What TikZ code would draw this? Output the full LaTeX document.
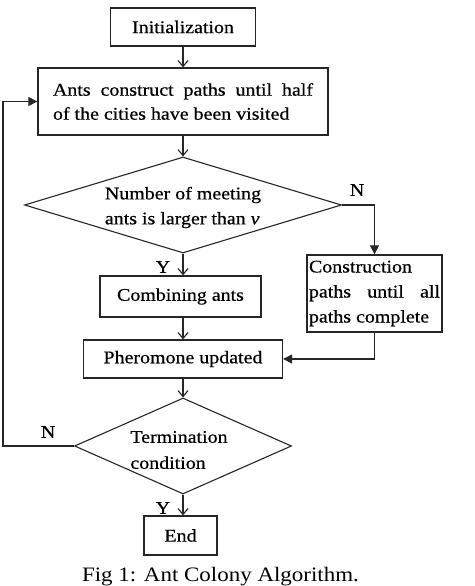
\documentclass[tikz,border=0pt]{standalone}
\usepackage{fontspec}
\setmainfont{Liberation Serif}[FakeStretch=1.12]
\newfontfamily\diagfont{Liberation Serif}[FakeStretch=1.12,FakeBold=0.6]
\usetikzlibrary{arrows.meta,shapes.geometric}
\begin{document}
\begin{tikzpicture}[x=1pt,y=-1pt,
  box/.style={draw=black!85, line width=1.3pt, inner sep=0pt, align=center, font=\diagfont\fontsize{17.8}{24}\selectfont},
  dec/.style={draw=black!85, line width=1.1pt, diamond, inner sep=0pt},
  lbl/.style={font=\diagfont\fontsize{17.8}{25}\selectfont, inner sep=0pt},
  conn/.style={draw=black!85, line width=1.1pt},
  openarr/.style={conn, -{Straight Barb[length=6pt,width=10pt]}},
  fillarr/.style={conn, -{Triangle[length=9pt,width=9pt]}}]
\path[use as bounding box] (0,0) rectangle (474,586);
\hyphenpenalty=10000
% boxes
\node[box, minimum width=145pt, minimum height=38pt] (init) at (183,27) {Initialization};
\node[box, minimum width=290pt, minimum height=67pt, text width=260pt, align=justify] (ants) at (183,101.5) {Ants construct paths until half\linebreak of the cities have been visited};
\node[box, minimum width=161pt, minimum height=41pt] (comb) at (180.5,296.5) {Combining ants};
\node[box, minimum width=135pt, minimum height=77pt, text width=131pt, align=justify, font=\diagfont\fontsize{17.8}{25}\selectfont] (cons) at (374.5,293.5) {Construction paths until all paths complete};
\node[box, minimum width=199pt, minimum height=38pt] (pher) at (183,359) {Pheromone updated};
\node[box, minimum width=73pt, minimum height=39pt] (end) at (180.5,535.5) {End};
% decisions
\node[dec, minimum width=317pt, minimum height=96pt] (d1) at (183,205) {};
\node[lbl, align=left] (d1t) at (183,207.5) {Number of meeting\\ants is larger than \textit{v}};
\node[dec, minimum width=217pt, minimum height=96pt] (d2) at (183,446) {};
\node[lbl, align=left, font=\diagfont\fontsize{17.8}{26}\selectfont] (d2t) at (179,450) {Termination\\condition};
% connectors
\draw[openarr] (init.south) -- (init.south |- ants.north);
\draw[openarr] (ants.south) -- (ants.south |- d1.north);
\draw[openarr] (d1.south) -- (d1.south |- comb.north);
\draw[openarr] (d1.south |- comb.south) -- (d1.south |- pher.north);
\draw[openarr] (pher.south) -- (pher.south |- d2.north);
\draw[openarr] (d2.south) -- (d2.south |- end.north);
\draw[fillarr] (d1.east) -| (cons.north);
\draw[fillarr] (cons.south) |- (pher.east);
\coordinate (lp) at (3,446);
\draw[fillarr] (d2.west) -- (lp) |- (ants.west);
% labels
\node[lbl] (n1) at (357,190) {N};
\node[lbl] (y1) at (163,267) {Y};
\node[lbl] (n2) at (48,432) {N};
\node[lbl] (y2) at (163,508) {Y};
% caption
\node[font=\fontsize{20.5}{24}\selectfont, anchor=base, inner sep=0pt] (cap) at (220.5,581) {Fig 1: Ant Colony Algorithm.};
\end{tikzpicture}
\end{document}
